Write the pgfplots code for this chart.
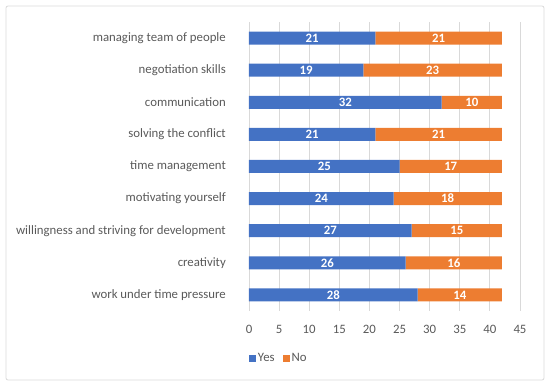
\documentclass[border=0pt]{standalone}
\usepackage{pgfplots}
\pgfplotsset{compat=1.18}
\usepackage{pgfplotstable}
\usepackage{fontspec}
\setmainfont{Carlito}
\definecolor{cblue}{HTML}{4472C4}
\definecolor{corange}{HTML}{ED7D31}
\definecolor{cgrid}{HTML}{D9D9D9}
\definecolor{ctext}{HTML}{595959}
\pgfplotstableread{
y yes no
0 28 14
1 26 16
2 27 15
3 24 18
4 25 17
5 21 21
6 32 10
7 19 23
8 21 21
}\data
\begin{document}
\begin{tikzpicture}[x=1pt,y=1pt]
\path[use as bounding box] (0,0) rectangle (550,385);
\draw[cgrid, rounded corners=2pt, line width=0.8pt] (6,5) rectangle (544,379);
\begin{axis}[
  at={(249pt,74pt)}, anchor=south west,
  scale only axis, width=271pt, height=289pt,
  xbar stacked, bar width=13pt,
  xmin=0, xmax=45, xtick={0,5,...,45},
  ymin=-0.5, ymax=8.5, ytick={0,...,8},
  yticklabels={work under time pressure, creativity, willingness and striving for development, motivating yourself, time management, solving the conflict, communication, negotiation skills, managing team of people},
  axis line style={draw=none}, major tick length=0pt,
  xmajorgrids, grid style={cgrid, line width=0.8pt},
  tick label style={font=\fontsize{12.8}{15}\selectfont, text=ctext},
  /pgf/number format/assume math mode=true,
  y tick label style={inner sep=0pt, xshift=-23pt},
  x tick label style={inner sep=0pt, yshift=-14pt},
  legend columns=2,
  legend style={draw=none, at={(0.11,-0.163)}, anchor=center, font=\fontsize{12.8}{15}\selectfont, text=ctext, /tikz/every even column/.append style={column sep=6pt}},
  legend image code/.code={\fill[#1] (0pt,-3.5pt) rectangle (7pt,3.5pt);},
]
\addplot[fill=cblue, draw=none] table[x=yes, y=y] {\data};
\addlegendentry{Yes}
\addplot[fill=corange, draw=none] table[x=no, y=y] {\data};
\addlegendentry{No}
\end{axis}
\begin{axis}[
  at={(249pt,74pt)}, anchor=south west,
  scale only axis, width=271pt, height=289pt,
  xmin=0, xmax=45, ymin=-0.5, ymax=8.5,
  hide axis,
  nodes near coords, point meta=explicit symbolic,
  every node near coord/.append style={font=\bfseries\fontsize{12.8}{15}\selectfont, text=white, anchor=center, inner sep=0pt},
]
\addplot[draw=none, mark=none] table[x expr=\thisrow{yes}/2, y=y, meta=yes] {\data};
\addplot[draw=none, mark=none] table[x expr=\thisrow{yes}+\thisrow{no}/2, y=y, meta=no] {\data};
\end{axis}
\end{tikzpicture}
\end{document}
